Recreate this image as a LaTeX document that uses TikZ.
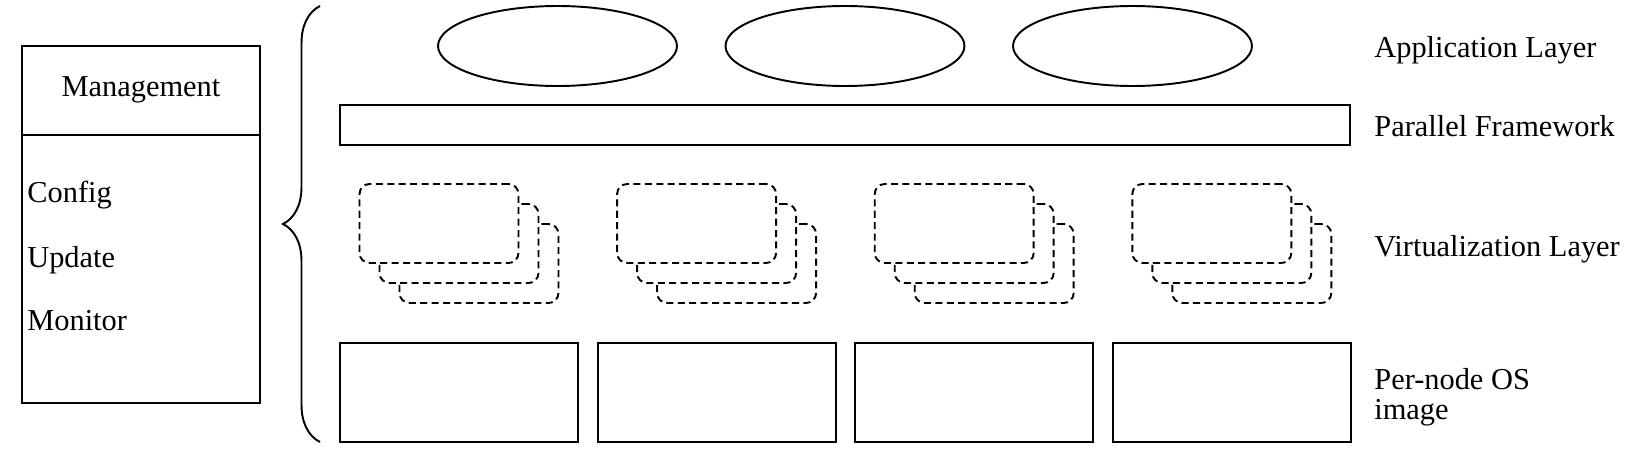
\documentclass[tikz,border=0pt]{standalone}
\usepackage{fontspec}
\setmainfont{Liberation Serif}
\usetikzlibrary{shapes.geometric,decorations.pathreplacing}

\tikzset{
  every node/.style={font=\fontsize{17.3}{20}\selectfont},
  plain/.style={draw,line width=1.1pt,inner sep=0pt},
  appnode/.style={plain,ellipse,minimum width=4.78cm,minimum height=1.6cm},
  osbox/.style={plain,minimum width=4.76cm,minimum height=1.98cm},
  vmbox/.style={plain,fill=white,dash pattern=on 4pt off 2.5pt,rounded corners=0.2cm,
    minimum width=3.18cm,minimum height=1.58cm},
  layer/.style={anchor=base west,inner sep=0pt}
}

\begin{document}
\begin{tikzpicture}[x=0.02cm,y=-0.02cm]
\useasboundingbox (0,0) rectangle (1640,453);
% management column
\node[plain,minimum width=4.76cm,minimum height=1.78cm] (mgmthead) at (141,90.5) {};
\node[layer,anchor=base] (mgmttitle) at (141,96) {Management};
\node[plain,minimum width=4.76cm,minimum height=5.36cm] (mgmtbody) at (141,269) {};
\node[layer] (config) at (27,202) {Config};
\node[layer] (update) at (27,267) {Update};
\node[layer] (monitor) at (27,330) {Monitor};
% brace
\coordinate (brbot) at (320,442);
\coordinate (brtop) at (320,6);
\draw[line width=1.1pt,decorate,decoration={brace,amplitude=0.74cm}] (brbot) -- (brtop);
% layers
\foreach \n/\x in {1/557.5,2/845,3/1132.5}
  \node[appnode] (app\n) at (\x,46) {};
\node[plain,minimum width=20.2cm,minimum height=0.8cm] (fw) at (845,125) {};
\foreach \n/\x in {1/459,2/716.6,3/974.2,4/1231.8} {
  \node[vmbox] (vm\n-c) at (\x+20,263.5) {};
  \node[vmbox] (vm\n-b) at (\x,243.5) {};
  \node[vmbox] (vm\n-a) at (\x-20,223.5) {};
  \node[osbox] (os\n) at (\x,392.5) {};
}
% labels
\node[layer] (lapp) at (1374,57) {Application Layer};
\node[layer] (lfw) at (1374,136) {Parallel Framework};
\node[layer] (lvm) at (1374,256) {Virtualization Layer};
\node[layer] (los) at (1374,389) {Per-node OS};
\node[layer] (losb) at (1374,419) {image};
\end{tikzpicture}
\end{document}
